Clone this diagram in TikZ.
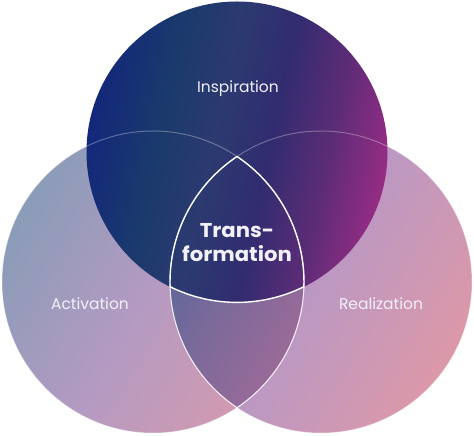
\documentclass[tikz,border=0pt]{standalone}
\usepackage{fontspec}
\setmainfont{Poppins}
\newfontfamily\widefont[FakeStretch=1.06]{Poppins}
\definecolor{t1}{HTML}{13287A}
\definecolor{t2}{HTML}{1B3A6C}
\definecolor{t3}{HTML}{2C3A70}
\definecolor{t4}{HTML}{312C70}
\definecolor{t5}{HTML}{5C2C76}
\definecolor{t7}{HTML}{962C84}
\definecolor{l1}{HTML}{8A9CB8}
\definecolor{l2}{HTML}{B49AC2}
\definecolor{l3}{HTML}{D49AAE}
\definecolor{r1}{HTML}{9C9CC4}
\definecolor{r2}{HTML}{BC98C2}
\definecolor{r3}{HTML}{DC98A8}
\definecolor{n1}{HTML}{56659A}
\definecolor{n2}{HTML}{7C6A9A}
\definecolor{n3}{HTML}{9E6A98}
\definecolor{txt}{HTML}{F2F0F8}
\pgfdeclarehorizontalshading{topg}{100bp}{color(0bp)=(t1); color(25bp)=(t1); color(37bp)=(t2); color(46bp)=(t3); color(55bp)=(t4); color(65bp)=(t5); color(75bp)=(t7); color(100bp)=(t7)}
\pgfdeclarehorizontalshading{leftg}{100bp}{color(0bp)=(l1); color(25bp)=(l1); color(50bp)=(l2); color(75bp)=(l3); color(100bp)=(l3)}
\pgfdeclarehorizontalshading{rightg}{100bp}{color(0bp)=(r1); color(25bp)=(r1); color(50bp)=(r2); color(75bp)=(r3); color(100bp)=(r3)}
\pgfdeclarehorizontalshading{lensg}{100bp}{color(0bp)=(n1); color(25bp)=(n1); color(50bp)=(n2); color(75bp)=(n3); color(100bp)=(n3)}
\tikzset{
  label/.style={text=txt, font=\fontsize{15.5}{18}\selectfont, inner sep=0pt},
  center label/.style={text=txt, font=\widefont\bfseries\fontsize{20}{24}\selectfont, align=center, inner sep=0pt},
  rim/.style={draw=white, line width=1pt},
}
\begin{document}
\begin{tikzpicture}[x=1pt,y=1pt]
\useasboundingbox (0,0) rectangle (474,436);
\coordinate (cT) at (237,284);
\coordinate (cL) at (153,154);
\coordinate (cR) at (321,154);
\coordinate (A) at (237,279.5);
\coordinate (B) at (170.1,149.0);
\coordinate (C) at (303.9,149.0);
% lower circles
\shade[shading=leftg, shading angle=-30] (cL) circle[radius=151];
\shade[shading=rightg, shading angle=-30] (cR) circle[radius=151];
% lens of the two lower circles
\shade[shading=lensg, shading angle=-30]
  (A) arc[start angle=123.8, end angle=236.2, radius=151]
      arc[start angle=-56.2, end angle=56.2, radius=151] -- cycle;
% top circle
\shade[shading=topg, shading angle=-12] (cT) circle[radius=150.5];
% faint rims of lower circles
\draw[rim, draw opacity=0.3] (cL) circle[radius=151];
\draw[rim, draw opacity=0.3] (cR) circle[radius=151];
% bright rims of the lower lens
\draw[rim, draw opacity=0.8] (C) arc[start angle=-1.8, end angle=-56.2, radius=151];
\draw[rim, draw opacity=0.8] (B) arc[start angle=181.8, end angle=236.2, radius=151];
% triple region border
\draw[draw=white, line width=1.4pt, line join=round]
  (A) arc[start angle=123.8, end angle=181.8, radius=151]
      arc[start angle=243.6, end angle=296.4, radius=150.5]
      arc[start angle=-1.8, end angle=56.2, radius=151] -- cycle;
% labels
\node[label] (insp) at (238,347) {Inspiration};
\node[label] (act) at (90,132) {Activation};
\node[label] (real) at (381,132) {Realization};
\node[center label] (trans) at (237,193) {Trans-\\formation};
\end{tikzpicture}
\end{document}
